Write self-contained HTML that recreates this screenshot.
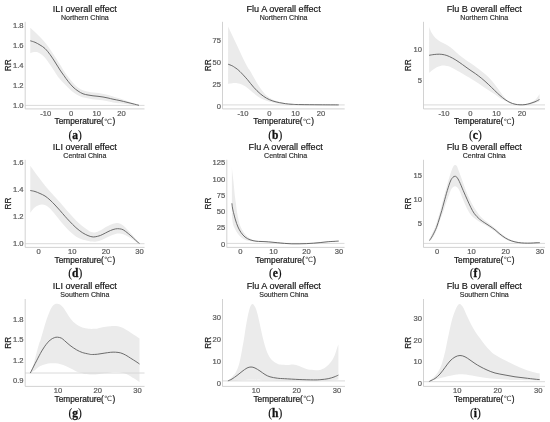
<!DOCTYPE html>
<html><head><meta charset="utf-8"><title>Figure</title>
<style>.lb{stroke:#111;stroke-width:.12px}.lbb{stroke:#111;stroke-width:.3px}.tk{stroke:#5c5c5c;stroke-width:.22px}.ax{stroke:#1a1a1a;stroke-width:.22px}.tt{stroke:#111;stroke-width:.16px}.st{stroke:#2a2a2a;stroke-width:.16px}html,body{margin:0;padding:0;background:#fff}body{width:550px;height:422px;position:relative;overflow:hidden}</style></head>
<body>
<svg width="550" height="422" viewBox="0 0 550 422" style="position:absolute;left:0;top:0;font-family:'Liberation Sans','Noto Sans CJK SC',sans-serif">
<g>
<path d="M30.30,27.70 C31.12,28.45 33.53,30.60 35.20,32.20 C36.87,33.80 38.60,35.50 40.30,37.30 C42.00,39.10 43.70,40.90 45.40,43.00 C47.10,45.10 48.82,47.48 50.50,49.90 C52.18,52.32 53.92,55.07 55.50,57.50 C57.08,59.93 58.75,62.50 60.00,64.50 C61.25,66.50 61.83,67.67 63.00,69.50 C64.17,71.33 65.67,73.67 67.00,75.50 C68.33,77.33 69.50,78.75 71.00,80.50 C72.50,82.25 74.33,84.50 76.00,86.00 C77.67,87.50 79.33,88.62 81.00,89.50 C82.67,90.38 84.33,90.85 86.00,91.30 C87.67,91.75 89.33,91.95 91.00,92.20 C92.67,92.45 94.33,92.58 96.00,92.80 C97.67,93.02 99.33,93.22 101.00,93.50 C102.67,93.78 104.50,94.15 106.00,94.50 C107.50,94.85 108.83,95.27 110.00,95.60 C111.17,95.93 111.33,96.00 113.00,96.50 C114.67,97.00 117.67,97.85 120.00,98.60 C122.33,99.35 124.83,100.23 127.00,101.00 C129.17,101.77 131.00,102.50 133.00,103.20 C135.00,103.90 138.00,104.87 139.00,105.20 L139.00,105.40 C138.00,105.30 135.00,105.00 133.00,104.80 C131.00,104.60 129.17,104.45 127.00,104.20 C124.83,103.95 122.33,103.60 120.00,103.30 C117.67,103.00 114.67,102.65 113.00,102.40 C111.33,102.15 111.33,102.07 110.00,101.80 C108.67,101.53 106.67,101.10 105.00,100.80 C103.33,100.50 101.67,100.22 100.00,100.00 C98.33,99.78 96.67,99.70 95.00,99.50 C93.33,99.30 91.67,99.08 90.00,98.80 C88.33,98.52 86.67,98.23 85.00,97.80 C83.33,97.37 81.67,96.92 80.00,96.20 C78.33,95.48 76.50,94.45 75.00,93.50 C73.50,92.55 72.33,91.67 71.00,90.50 C69.67,89.33 68.33,87.83 67.00,86.50 C65.67,85.17 64.33,83.92 63.00,82.50 C61.67,81.08 60.25,79.60 59.00,78.00 C57.75,76.40 56.92,75.02 55.50,72.90 C54.08,70.78 52.18,67.73 50.50,65.30 C48.82,62.87 46.90,60.10 45.40,58.30 C43.90,56.50 42.78,55.50 41.50,54.50 C40.22,53.50 38.97,52.72 37.70,52.30 C36.43,51.88 35.13,51.85 33.90,52.00 C32.67,52.15 30.90,53.00 30.30,53.20 Z" fill="#ebebeb"/>
<line x1="25.20" y1="105.40" x2="144.50" y2="105.40" stroke="#d6d6d6" stroke-width="0.9"/>
<path d="M30.30,40.80 C31.08,41.05 33.38,41.60 35.00,42.30 C36.62,43.00 38.33,43.97 40.00,45.00 C41.67,46.03 43.33,46.92 45.00,48.50 C46.67,50.08 48.33,52.25 50.00,54.50 C51.67,56.75 53.33,59.42 55.00,62.00 C56.67,64.58 58.50,67.72 60.00,70.00 C61.50,72.28 62.67,73.83 64.00,75.70 C65.33,77.57 66.50,79.32 68.00,81.20 C69.50,83.08 71.33,85.37 73.00,87.00 C74.67,88.63 76.33,89.87 78.00,91.00 C79.67,92.13 81.33,93.13 83.00,93.80 C84.67,94.47 86.33,94.67 88.00,95.00 C89.67,95.33 91.33,95.58 93.00,95.80 C94.67,96.02 96.33,96.10 98.00,96.30 C99.67,96.50 101.33,96.72 103.00,97.00 C104.67,97.28 106.33,97.63 108.00,98.00 C109.67,98.37 111.00,98.77 113.00,99.20 C115.00,99.63 117.67,100.08 120.00,100.60 C122.33,101.12 124.83,101.77 127.00,102.30 C129.17,102.83 131.00,103.30 133.00,103.80 C135.00,104.30 138.00,105.05 139.00,105.30" fill="none" stroke="#5c5c5c" stroke-width="0.9"/>
<path d="M25.20,21.80 V108.90 H144.50" fill="none" stroke="#c6c6c6" stroke-width="0.8"/>
<text x="23.60" y="27.70" text-anchor="end" font-size="7.6" fill="#5c5c5c" class="tk">1.8</text>
<text x="23.60" y="48.10" text-anchor="end" font-size="7.6" fill="#5c5c5c" class="tk">1.6</text>
<text x="23.60" y="68.00" text-anchor="end" font-size="7.6" fill="#5c5c5c" class="tk">1.4</text>
<text x="23.60" y="87.90" text-anchor="end" font-size="7.6" fill="#5c5c5c" class="tk">1.2</text>
<text x="23.60" y="108.10" text-anchor="end" font-size="7.6" fill="#5c5c5c" class="tk">1.0</text>
<text x="45.70" y="115.90" text-anchor="middle" font-size="7.6" fill="#5c5c5c" class="tk">-10</text>
<text x="71.00" y="115.90" text-anchor="middle" font-size="7.6" fill="#5c5c5c" class="tk">0</text>
<text x="96.70" y="115.90" text-anchor="middle" font-size="7.6" fill="#5c5c5c" class="tk">10</text>
<text x="121.60" y="115.90" text-anchor="middle" font-size="7.6" fill="#5c5c5c" class="tk">20</text>
<text x="84.85" y="124.20" text-anchor="middle" font-size="8.3" fill="#1a1a1a" class="ax">Temperature(<tspan font-family="'DejaVu Sans','Noto Sans CJK SC',sans-serif" font-size="7.2" dx="0.2" dy="-0.6" stroke="none" fill="#333">℃</tspan><tspan dx="0.2" dy="0.6">)</tspan></text>
<text transform="translate(10.80,65.35) rotate(-90)" text-anchor="middle" font-size="8.3" fill="#1a1a1a" class="ax">RR</text>
<text x="84.85" y="12.00" text-anchor="middle" font-size="9.1" fill="#111" class="tt">ILI overall effect</text>
<text x="84.85" y="20.00" text-anchor="middle" font-size="7.05" fill="#2a2a2a" class="st">Northern China</text>
<text x="75.20" y="139.00" text-anchor="middle" font-size="11.5" fill="#111" font-family="'Liberation Serif',serif" class="lb">(<tspan font-weight="bold" class="lbb">a</tspan>)</text>
</g>
<g>
<path d="M228.10,26.40 C228.78,27.88 230.67,32.02 232.20,35.30 C233.73,38.58 235.60,42.50 237.30,46.10 C239.00,49.70 240.70,53.40 242.40,56.90 C244.10,60.40 246.23,64.78 247.50,67.10 C248.77,69.42 248.73,68.70 250.00,70.80 C251.27,72.90 253.40,76.83 255.10,79.70 C256.80,82.57 258.30,85.35 260.20,88.00 C262.10,90.65 264.38,93.65 266.50,95.60 C268.62,97.55 270.77,98.63 272.90,99.70 C275.03,100.77 277.18,101.40 279.30,102.00 C281.42,102.60 282.98,102.97 285.60,103.30 C288.22,103.63 290.93,103.82 295.00,104.00 C299.07,104.18 302.72,104.32 310.00,104.40 C317.28,104.48 333.92,104.48 338.70,104.50 L338.70,105.20 C331.42,105.13 303.85,104.95 295.00,104.80 C286.15,104.65 288.22,104.48 285.60,104.30 C282.98,104.12 281.42,103.98 279.30,103.70 C277.18,103.42 275.03,103.10 272.90,102.60 C270.77,102.10 268.62,101.48 266.50,100.70 C264.38,99.92 262.32,99.13 260.20,97.90 C258.08,96.67 255.92,94.95 253.80,93.30 C251.68,91.65 249.40,89.42 247.50,88.00 C245.60,86.58 244.10,85.60 242.40,84.80 C240.70,84.00 239.00,83.47 237.30,83.20 C235.60,82.93 233.73,83.08 232.20,83.20 C230.67,83.32 228.78,83.78 228.10,83.90 Z" fill="#ebebeb"/>
<line x1="222.50" y1="104.90" x2="344.70" y2="104.90" stroke="#d6d6d6" stroke-width="0.9"/>
<path d="M228.10,64.20 C228.78,64.47 231.10,65.27 232.20,65.80 C233.30,66.33 233.85,66.83 234.70,67.40 C235.55,67.97 236.23,68.32 237.30,69.20 C238.37,70.08 239.40,70.95 241.10,72.70 C242.80,74.45 245.38,77.25 247.50,79.70 C249.62,82.15 251.68,85.07 253.80,87.40 C255.92,89.73 258.08,91.90 260.20,93.70 C262.32,95.50 264.38,96.98 266.50,98.20 C268.62,99.42 270.77,100.27 272.90,101.00 C275.03,101.73 277.18,102.15 279.30,102.60 C281.42,103.05 283.48,103.42 285.60,103.70 C287.72,103.98 289.60,104.15 292.00,104.30 C294.40,104.45 295.33,104.52 300.00,104.60 C304.67,104.68 313.55,104.75 320.00,104.80 C326.45,104.85 335.58,104.88 338.70,104.90" fill="none" stroke="#5c5c5c" stroke-width="0.9"/>
<path d="M222.50,21.80 V108.90 H344.70" fill="none" stroke="#c6c6c6" stroke-width="0.8"/>
<text x="220.90" y="43.10" text-anchor="end" font-size="7.6" fill="#5c5c5c" class="tk">75</text>
<text x="220.90" y="65.30" text-anchor="end" font-size="7.6" fill="#5c5c5c" class="tk">50</text>
<text x="220.90" y="86.95" text-anchor="end" font-size="7.6" fill="#5c5c5c" class="tk">25</text>
<text x="220.90" y="108.60" text-anchor="end" font-size="7.6" fill="#5c5c5c" class="tk">0</text>
<text x="243.10" y="115.90" text-anchor="middle" font-size="7.6" fill="#5c5c5c" class="tk">-10</text>
<text x="269.30" y="115.90" text-anchor="middle" font-size="7.6" fill="#5c5c5c" class="tk">0</text>
<text x="295.40" y="115.90" text-anchor="middle" font-size="7.6" fill="#5c5c5c" class="tk">10</text>
<text x="321.10" y="115.90" text-anchor="middle" font-size="7.6" fill="#5c5c5c" class="tk">20</text>
<text x="283.60" y="124.20" text-anchor="middle" font-size="8.3" fill="#1a1a1a" class="ax">Temperature(<tspan font-family="'DejaVu Sans','Noto Sans CJK SC',sans-serif" font-size="7.2" dx="0.2" dy="-0.6" stroke="none" fill="#333">℃</tspan><tspan dx="0.2" dy="0.6">)</tspan></text>
<text transform="translate(210.60,65.35) rotate(-90)" text-anchor="middle" font-size="8.3" fill="#1a1a1a" class="ax">RR</text>
<text x="283.60" y="12.00" text-anchor="middle" font-size="9.1" fill="#111" class="tt">Flu A overall effect</text>
<text x="283.60" y="20.00" text-anchor="middle" font-size="7.05" fill="#2a2a2a" class="st">Northern China</text>
<text x="275.30" y="139.00" text-anchor="middle" font-size="11.5" fill="#111" font-family="'Liberation Serif',serif" class="lb">(<tspan font-weight="bold" class="lbb">b</tspan>)</text>
</g>
<g>
<path d="M429.10,27.10 C429.52,28.05 430.53,31.00 431.60,32.80 C432.67,34.60 434.02,36.42 435.50,37.90 C436.98,39.38 438.82,40.63 440.50,41.70 C442.18,42.77 443.90,43.33 445.60,44.30 C447.30,45.27 449.00,46.23 450.70,47.50 C452.40,48.77 453.88,50.27 455.80,51.90 C457.72,53.53 460.17,55.70 462.20,57.30 C464.23,58.90 466.22,60.27 468.00,61.50 C469.78,62.73 471.02,63.37 472.90,64.70 C474.78,66.03 477.18,67.85 479.30,69.50 C481.42,71.15 483.48,72.68 485.60,74.60 C487.72,76.52 490.08,78.87 492.00,81.00 C493.92,83.13 495.40,85.17 497.10,87.40 C498.80,89.63 500.50,92.28 502.20,94.40 C503.90,96.52 505.40,98.62 507.30,100.10 C509.20,101.58 511.48,102.58 513.60,103.30 C515.72,104.02 518.10,104.25 520.00,104.40 C521.90,104.55 523.33,104.47 525.00,104.20 C526.67,103.93 528.33,103.50 530.00,102.80 C531.67,102.10 533.67,101.05 535.00,100.00 C536.33,98.95 537.25,97.50 538.00,96.50 C538.75,95.50 539.25,94.42 539.50,94.00 L539.50,101.50 C538.75,101.75 536.58,102.52 535.00,103.00 C533.42,103.48 531.67,104.03 530.00,104.40 C528.33,104.77 526.67,105.07 525.00,105.20 C523.33,105.33 521.90,105.35 520.00,105.20 C518.10,105.05 515.52,104.73 513.60,104.30 C511.68,103.87 510.18,103.30 508.50,102.60 C506.82,101.90 505.18,101.05 503.50,100.10 C501.82,99.15 500.10,98.03 498.40,96.90 C496.70,95.77 495.00,94.47 493.30,93.30 C491.60,92.13 490.12,91.17 488.20,89.90 C486.28,88.63 483.92,87.10 481.80,85.70 C479.68,84.30 477.62,82.85 475.50,81.50 C473.38,80.15 471.23,78.88 469.10,77.60 C466.97,76.32 464.88,75.07 462.70,73.80 C460.52,72.53 458.12,71.17 456.00,70.00 C453.88,68.83 451.93,67.53 450.00,66.80 C448.07,66.07 445.98,65.75 444.40,65.60 C442.82,65.45 441.78,65.63 440.50,65.90 C439.22,66.17 437.97,66.57 436.70,67.20 C435.43,67.83 434.17,68.75 432.90,69.70 C431.63,70.65 429.73,72.37 429.10,72.90 Z" fill="#ebebeb"/>
<line x1="423.50" y1="104.90" x2="545.00" y2="104.90" stroke="#d6d6d6" stroke-width="0.9"/>
<path d="M429.10,55.30 C429.95,55.17 432.50,54.68 434.20,54.50 C435.90,54.32 437.60,54.15 439.30,54.20 C441.00,54.25 442.70,54.40 444.40,54.80 C446.10,55.20 447.60,55.73 449.50,56.60 C451.40,57.47 453.63,58.67 455.80,60.00 C457.97,61.33 460.30,63.05 462.50,64.60 C464.70,66.15 466.83,67.78 469.00,69.30 C471.17,70.82 473.37,72.17 475.50,73.70 C477.63,75.23 479.68,76.75 481.80,78.50 C483.92,80.25 486.08,82.23 488.20,84.20 C490.32,86.17 492.53,88.42 494.50,90.30 C496.47,92.18 498.25,93.97 500.00,95.50 C501.75,97.03 503.33,98.33 505.00,99.50 C506.67,100.67 508.33,101.72 510.00,102.50 C511.67,103.28 513.33,103.82 515.00,104.20 C516.67,104.58 518.33,104.73 520.00,104.80 C521.67,104.87 523.33,104.82 525.00,104.60 C526.67,104.38 528.33,103.97 530.00,103.50 C531.67,103.03 533.42,102.47 535.00,101.80 C536.58,101.13 538.75,99.88 539.50,99.50" fill="none" stroke="#5c5c5c" stroke-width="0.9"/>
<path d="M423.50,21.80 V108.90 H545.00" fill="none" stroke="#c6c6c6" stroke-width="0.8"/>
<text x="421.90" y="51.80" text-anchor="end" font-size="7.6" fill="#5c5c5c" class="tk">10</text>
<text x="421.90" y="82.70" text-anchor="end" font-size="7.6" fill="#5c5c5c" class="tk">5</text>
<text x="444.10" y="115.90" text-anchor="middle" font-size="7.6" fill="#5c5c5c" class="tk">-10</text>
<text x="470.30" y="115.90" text-anchor="middle" font-size="7.6" fill="#5c5c5c" class="tk">0</text>
<text x="496.40" y="115.90" text-anchor="middle" font-size="7.6" fill="#5c5c5c" class="tk">10</text>
<text x="522.10" y="115.90" text-anchor="middle" font-size="7.6" fill="#5c5c5c" class="tk">20</text>
<text x="484.25" y="124.20" text-anchor="middle" font-size="8.3" fill="#1a1a1a" class="ax">Temperature(<tspan font-family="'DejaVu Sans','Noto Sans CJK SC',sans-serif" font-size="7.2" dx="0.2" dy="-0.6" stroke="none" fill="#333">℃</tspan><tspan dx="0.2" dy="0.6">)</tspan></text>
<text transform="translate(411.10,65.35) rotate(-90)" text-anchor="middle" font-size="8.3" fill="#1a1a1a" class="ax">RR</text>
<text x="484.25" y="12.00" text-anchor="middle" font-size="9.1" fill="#111" class="tt">Flu B overall effect</text>
<text x="484.25" y="20.00" text-anchor="middle" font-size="7.05" fill="#2a2a2a" class="st">Northern China</text>
<text x="475.40" y="139.00" text-anchor="middle" font-size="11.5" fill="#111" font-family="'Liberation Serif',serif" class="lb">(<tspan font-weight="bold" class="lbb">c</tspan>)</text>
</g>
<g>
<path d="M30.30,165.70 C30.92,166.58 32.72,169.20 34.00,171.00 C35.28,172.80 36.50,174.50 38.00,176.50 C39.50,178.50 41.50,181.08 43.00,183.00 C44.50,184.92 45.67,186.42 47.00,188.00 C48.33,189.58 49.50,190.83 51.00,192.50 C52.50,194.17 54.33,196.17 56.00,198.00 C57.67,199.83 59.33,201.58 61.00,203.50 C62.67,205.42 64.33,207.58 66.00,209.50 C67.67,211.42 69.33,213.17 71.00,215.00 C72.67,216.83 74.33,218.83 76.00,220.50 C77.67,222.17 79.10,223.45 81.00,225.00 C82.90,226.55 85.73,228.63 87.40,229.80 C89.07,230.97 89.70,231.57 91.00,232.00 C92.30,232.43 93.65,232.65 95.20,232.40 C96.75,232.15 98.60,231.35 100.30,230.50 C102.00,229.65 103.70,228.27 105.40,227.30 C107.10,226.33 108.82,225.38 110.50,224.70 C112.18,224.02 114.02,223.40 115.50,223.20 C116.98,223.00 118.12,223.13 119.40,223.50 C120.68,223.87 121.72,224.23 123.20,225.40 C124.68,226.57 126.60,228.70 128.30,230.50 C130.00,232.30 131.92,234.52 133.40,236.20 C134.88,237.88 136.18,239.43 137.20,240.60 C138.22,241.77 139.12,242.77 139.50,243.20 L139.50,243.60 C139.12,243.42 138.22,243.10 137.20,242.50 C136.18,241.90 134.88,240.95 133.40,240.00 C131.92,239.05 130.00,237.75 128.30,236.80 C126.60,235.85 124.68,234.83 123.20,234.30 C121.72,233.77 120.68,233.65 119.40,233.60 C118.12,233.55 116.98,233.63 115.50,234.00 C114.02,234.37 112.18,235.08 110.50,235.80 C108.82,236.52 107.10,237.50 105.40,238.30 C103.70,239.10 102.00,240.03 100.30,240.60 C98.60,241.17 96.58,241.53 95.20,241.70 C93.82,241.87 93.10,241.72 92.00,241.60 C90.90,241.48 90.22,241.33 88.60,241.00 C86.98,240.67 84.42,240.37 82.30,239.60 C80.18,238.83 77.95,237.75 75.90,236.40 C73.85,235.05 71.65,232.98 70.00,231.50 C68.35,230.02 67.33,228.92 66.00,227.50 C64.67,226.08 63.33,224.58 62.00,223.00 C60.67,221.42 59.33,219.67 58.00,218.00 C56.67,216.33 55.33,214.58 54.00,213.00 C52.67,211.42 51.33,209.75 50.00,208.50 C48.67,207.25 47.33,206.17 46.00,205.50 C44.67,204.83 43.33,204.50 42.00,204.50 C40.67,204.50 39.33,204.92 38.00,205.50 C36.67,206.08 35.28,206.78 34.00,208.00 C32.72,209.22 30.92,212.00 30.30,212.80 Z" fill="#ebebeb"/>
<line x1="25.20" y1="243.70" x2="144.50" y2="243.70" stroke="#d6d6d6" stroke-width="0.9"/>
<path d="M30.30,190.50 C31.08,190.67 33.38,191.00 35.00,191.50 C36.62,192.00 38.33,192.75 40.00,193.50 C41.67,194.25 43.33,194.92 45.00,196.00 C46.67,197.08 48.33,198.50 50.00,200.00 C51.67,201.50 53.33,203.25 55.00,205.00 C56.67,206.75 58.33,208.62 60.00,210.50 C61.67,212.38 63.42,214.52 65.00,216.30 C66.58,218.08 67.68,219.32 69.50,221.20 C71.32,223.08 73.77,225.70 75.90,227.60 C78.03,229.50 80.28,231.27 82.30,232.60 C84.32,233.93 86.38,234.90 88.00,235.60 C89.62,236.30 90.80,236.60 92.00,236.80 C93.20,237.00 93.82,237.02 95.20,236.80 C96.58,236.58 98.60,236.13 100.30,235.50 C102.00,234.87 103.70,233.83 105.40,233.00 C107.10,232.17 108.82,231.18 110.50,230.50 C112.18,229.82 114.02,229.18 115.50,228.90 C116.98,228.62 118.12,228.65 119.40,228.80 C120.68,228.95 121.72,229.00 123.20,229.80 C124.68,230.60 126.60,232.22 128.30,233.60 C130.00,234.98 131.92,236.75 133.40,238.10 C134.88,239.45 136.18,240.82 137.20,241.70 C138.22,242.58 139.12,243.12 139.50,243.40" fill="none" stroke="#5c5c5c" stroke-width="0.9"/>
<path d="M25.20,159.80 V247.40 H144.50" fill="none" stroke="#c6c6c6" stroke-width="0.8"/>
<text x="23.60" y="164.90" text-anchor="end" font-size="7.6" fill="#5c5c5c" class="tk">1.6</text>
<text x="23.60" y="192.30" text-anchor="end" font-size="7.6" fill="#5c5c5c" class="tk">1.4</text>
<text x="23.60" y="219.20" text-anchor="end" font-size="7.6" fill="#5c5c5c" class="tk">1.2</text>
<text x="23.60" y="246.40" text-anchor="end" font-size="7.6" fill="#5c5c5c" class="tk">1.0</text>
<text x="38.70" y="254.40" text-anchor="middle" font-size="7.6" fill="#5c5c5c" class="tk">0</text>
<text x="72.30" y="254.40" text-anchor="middle" font-size="7.6" fill="#5c5c5c" class="tk">10</text>
<text x="105.90" y="254.40" text-anchor="middle" font-size="7.6" fill="#5c5c5c" class="tk">20</text>
<text x="139.50" y="254.40" text-anchor="middle" font-size="7.6" fill="#5c5c5c" class="tk">30</text>
<text x="84.85" y="262.70" text-anchor="middle" font-size="8.3" fill="#1a1a1a" class="ax">Temperature(<tspan font-family="'DejaVu Sans','Noto Sans CJK SC',sans-serif" font-size="7.2" dx="0.2" dy="-0.6" stroke="none" fill="#333">℃</tspan><tspan dx="0.2" dy="0.6">)</tspan></text>
<text transform="translate(10.80,203.60) rotate(-90)" text-anchor="middle" font-size="8.3" fill="#1a1a1a" class="ax">RR</text>
<text x="84.85" y="150.00" text-anchor="middle" font-size="9.1" fill="#111" class="tt">ILI overall effect</text>
<text x="84.85" y="158.00" text-anchor="middle" font-size="7.05" fill="#2a2a2a" class="st">Central China</text>
<text x="75.20" y="277.00" text-anchor="middle" font-size="11.5" fill="#111" font-family="'Liberation Serif',serif" class="lb">(<tspan font-weight="bold" class="lbb">d</tspan>)</text>
</g>
<g>
<path d="M231.90,166.00 C231.97,167.00 232.03,169.33 232.30,172.00 C232.57,174.67 233.05,177.83 233.50,182.00 C233.95,186.17 234.58,193.33 235.00,197.00 C235.42,200.67 235.67,201.50 236.00,204.00 C236.33,206.50 236.58,209.33 237.00,212.00 C237.42,214.67 237.92,217.58 238.50,220.00 C239.08,222.42 239.67,224.50 240.50,226.50 C241.33,228.50 242.42,230.38 243.50,232.00 C244.58,233.62 245.75,235.03 247.00,236.20 C248.25,237.37 249.50,238.27 251.00,239.00 C252.50,239.73 253.50,240.23 256.00,240.60 C258.50,240.97 262.45,240.93 266.00,241.20 C269.55,241.47 273.00,241.85 277.30,242.20 C281.60,242.55 286.95,243.15 291.80,243.30 C296.65,243.45 301.55,243.32 306.40,243.10 C311.25,242.88 315.52,242.43 320.90,242.00 C326.28,241.57 335.73,240.75 338.70,240.50 L338.70,241.70 C336.95,241.78 332.38,241.87 328.20,242.20 C324.02,242.53 318.45,243.35 313.60,243.70 C308.75,244.05 303.95,244.27 299.10,244.30 C294.25,244.33 289.18,244.18 284.50,243.90 C279.82,243.62 274.92,242.92 271.00,242.60 C267.08,242.28 264.33,242.23 261.00,242.00 C257.67,241.77 253.50,241.50 251.00,241.20 C248.50,240.90 247.50,240.73 246.00,240.20 C244.50,239.67 243.33,239.03 242.00,238.00 C240.67,236.97 239.17,235.50 238.00,234.00 C236.83,232.50 235.83,230.67 235.00,229.00 C234.17,227.33 233.52,226.17 233.00,224.00 C232.48,221.83 232.08,217.33 231.90,216.00 Z" fill="#ebebeb"/>
<line x1="226.80" y1="243.40" x2="344.50" y2="243.40" stroke="#d6d6d6" stroke-width="0.9"/>
<path d="M231.90,203.30 C232.00,204.08 232.23,206.47 232.50,208.00 C232.77,209.53 233.00,210.50 233.50,212.50 C234.00,214.50 234.75,217.58 235.50,220.00 C236.25,222.42 237.08,224.92 238.00,227.00 C238.92,229.08 239.83,230.83 241.00,232.50 C242.17,234.17 243.50,235.78 245.00,237.00 C246.50,238.22 248.17,239.10 250.00,239.80 C251.83,240.50 254.17,240.92 256.00,241.20 C257.83,241.48 259.33,241.42 261.00,241.50 C262.67,241.58 264.33,241.60 266.00,241.70 C267.67,241.80 269.12,241.93 271.00,242.10 C272.88,242.27 275.05,242.48 277.30,242.70 C279.55,242.92 282.08,243.22 284.50,243.40 C286.92,243.58 289.37,243.73 291.80,243.80 C294.23,243.87 296.67,243.83 299.10,243.80 C301.53,243.77 303.98,243.70 306.40,243.60 C308.82,243.50 311.18,243.38 313.60,243.20 C316.02,243.02 318.47,242.75 320.90,242.50 C323.33,242.25 325.77,241.90 328.20,241.70 C330.63,241.50 333.75,241.40 335.50,241.30 C337.25,241.20 338.17,241.13 338.70,241.10" fill="none" stroke="#5c5c5c" stroke-width="0.9"/>
<path d="M226.80,159.80 V247.40 H344.50" fill="none" stroke="#c6c6c6" stroke-width="0.8"/>
<text x="225.20" y="164.90" text-anchor="end" font-size="7.6" fill="#5c5c5c" class="tk">125</text>
<text x="225.20" y="181.60" text-anchor="end" font-size="7.6" fill="#5c5c5c" class="tk">100</text>
<text x="225.20" y="197.80" text-anchor="end" font-size="7.6" fill="#5c5c5c" class="tk">75</text>
<text x="225.20" y="214.00" text-anchor="end" font-size="7.6" fill="#5c5c5c" class="tk">50</text>
<text x="225.20" y="230.40" text-anchor="end" font-size="7.6" fill="#5c5c5c" class="tk">25</text>
<text x="225.20" y="246.90" text-anchor="end" font-size="7.6" fill="#5c5c5c" class="tk">0</text>
<text x="240.40" y="254.40" text-anchor="middle" font-size="7.6" fill="#5c5c5c" class="tk">0</text>
<text x="273.50" y="254.40" text-anchor="middle" font-size="7.6" fill="#5c5c5c" class="tk">10</text>
<text x="306.40" y="254.40" text-anchor="middle" font-size="7.6" fill="#5c5c5c" class="tk">20</text>
<text x="339.00" y="254.40" text-anchor="middle" font-size="7.6" fill="#5c5c5c" class="tk">30</text>
<text x="285.65" y="262.70" text-anchor="middle" font-size="8.3" fill="#1a1a1a" class="ax">Temperature(<tspan font-family="'DejaVu Sans','Noto Sans CJK SC',sans-serif" font-size="7.2" dx="0.2" dy="-0.6" stroke="none" fill="#333">℃</tspan><tspan dx="0.2" dy="0.6">)</tspan></text>
<text transform="translate(210.60,203.60) rotate(-90)" text-anchor="middle" font-size="8.3" fill="#1a1a1a" class="ax">RR</text>
<text x="285.65" y="150.00" text-anchor="middle" font-size="9.1" fill="#111" class="tt">Flu A overall effect</text>
<text x="285.65" y="158.00" text-anchor="middle" font-size="7.05" fill="#2a2a2a" class="st">Central China</text>
<text x="275.30" y="277.00" text-anchor="middle" font-size="11.5" fill="#111" font-family="'Liberation Serif',serif" class="lb">(<tspan font-weight="bold" class="lbb">e</tspan>)</text>
</g>
<g>
<path d="M429.50,238.80 C429.92,237.97 431.00,235.93 432.00,233.80 C433.00,231.67 434.42,228.88 435.50,226.00 C436.58,223.12 437.77,218.83 438.50,216.50 C439.23,214.17 439.18,214.63 439.90,212.00 C440.62,209.37 441.78,204.48 442.80,200.70 C443.82,196.92 444.93,193.12 446.00,189.30 C447.07,185.48 448.25,180.98 449.20,177.80 C450.15,174.62 450.97,172.15 451.70,170.20 C452.43,168.25 453.02,166.95 453.60,166.10 C454.18,165.25 454.67,165.10 455.20,165.10 C455.73,165.10 456.22,165.15 456.80,166.10 C457.38,167.05 457.95,168.85 458.70,170.80 C459.45,172.75 460.33,175.15 461.30,177.80 C462.27,180.45 463.33,183.62 464.50,186.70 C465.67,189.78 467.03,193.43 468.30,196.30 C469.57,199.17 470.83,201.57 472.10,203.90 C473.37,206.23 474.50,208.20 475.90,210.30 C477.30,212.40 478.82,214.67 480.50,216.50 C482.18,218.33 483.97,219.67 486.00,221.30 C488.03,222.93 490.52,224.55 492.70,226.30 C494.88,228.05 496.97,230.05 499.10,231.80 C501.23,233.55 503.38,235.40 505.50,236.80 C507.62,238.20 509.68,239.33 511.80,240.20 C513.92,241.07 516.08,241.58 518.20,242.00 C520.32,242.42 522.38,242.58 524.50,242.70 C526.62,242.82 528.35,242.78 530.90,242.70 C533.45,242.62 538.32,242.28 539.80,242.20 L539.80,243.20 C538.32,243.25 533.45,243.45 530.90,243.50 C528.35,243.55 526.62,243.58 524.50,243.50 C522.38,243.42 520.32,243.28 518.20,243.00 C516.08,242.72 513.92,242.42 511.80,241.80 C509.68,241.18 507.62,240.43 505.50,239.30 C503.38,238.17 500.85,236.30 499.10,235.00 C497.35,233.70 496.53,232.67 495.00,231.50 C493.47,230.33 491.60,229.12 489.90,228.00 C488.20,226.88 486.62,225.88 484.80,224.80 C482.98,223.72 480.88,222.72 479.00,221.50 C477.12,220.28 475.08,218.92 473.50,217.50 C471.92,216.08 470.80,214.95 469.50,213.00 C468.20,211.05 466.87,208.27 465.70,205.80 C464.53,203.33 463.55,200.75 462.50,198.20 C461.45,195.65 460.35,192.37 459.40,190.50 C458.45,188.63 457.65,187.67 456.80,187.00 C455.95,186.33 455.15,186.23 454.30,186.50 C453.45,186.77 452.55,187.28 451.70,188.60 C450.85,189.92 450.15,191.95 449.20,194.40 C448.25,196.85 446.95,200.53 446.00,203.30 C445.05,206.07 444.42,208.38 443.50,211.00 C442.58,213.62 441.53,216.08 440.50,219.00 C439.47,221.92 438.52,225.50 437.30,228.50 C436.08,231.50 434.50,234.80 433.20,237.00 C431.90,239.20 430.12,240.92 429.50,241.70 Z" fill="#ebebeb"/>
<line x1="423.50" y1="243.40" x2="545.00" y2="243.40" stroke="#d6d6d6" stroke-width="0.9"/>
<path d="M429.50,240.50 C430.02,239.68 431.43,237.78 432.60,235.60 C433.77,233.42 435.33,230.37 436.50,227.40 C437.67,224.43 438.72,220.62 439.60,217.80 C440.48,214.98 441.05,213.13 441.80,210.50 C442.55,207.87 443.18,205.33 444.10,202.00 C445.02,198.67 446.23,194.00 447.30,190.50 C448.37,187.00 449.55,183.22 450.50,181.00 C451.45,178.78 452.27,177.98 453.00,177.20 C453.73,176.42 454.27,176.30 454.90,176.30 C455.53,176.30 456.05,176.32 456.80,177.20 C457.55,178.08 458.33,179.38 459.40,181.60 C460.47,183.82 461.88,187.47 463.20,190.50 C464.52,193.53 466.03,196.98 467.30,199.80 C468.57,202.62 469.62,205.08 470.80,207.40 C471.98,209.72 472.92,211.72 474.40,213.70 C475.88,215.68 477.97,217.77 479.70,219.30 C481.43,220.83 483.10,221.75 484.80,222.90 C486.50,224.05 488.20,225.05 489.90,226.20 C491.60,227.35 493.47,228.60 495.00,229.80 C496.53,231.00 497.35,232.02 499.10,233.40 C500.85,234.78 503.38,236.83 505.50,238.10 C507.62,239.37 509.68,240.27 511.80,241.00 C513.92,241.73 516.08,242.15 518.20,242.50 C520.32,242.85 522.38,243.00 524.50,243.10 C526.62,243.20 528.98,243.15 530.90,243.10 C532.82,243.05 534.52,242.87 536.00,242.80 C537.48,242.73 539.17,242.72 539.80,242.70" fill="none" stroke="#5c5c5c" stroke-width="0.9"/>
<path d="M423.50,159.80 V247.40 H545.00" fill="none" stroke="#c6c6c6" stroke-width="0.8"/>
<text x="421.90" y="177.90" text-anchor="end" font-size="7.6" fill="#5c5c5c" class="tk">15</text>
<text x="421.90" y="202.30" text-anchor="end" font-size="7.6" fill="#5c5c5c" class="tk">10</text>
<text x="421.90" y="226.40" text-anchor="end" font-size="7.6" fill="#5c5c5c" class="tk">5</text>
<text x="437.20" y="254.40" text-anchor="middle" font-size="7.6" fill="#5c5c5c" class="tk">0</text>
<text x="471.50" y="254.40" text-anchor="middle" font-size="7.6" fill="#5c5c5c" class="tk">10</text>
<text x="505.70" y="254.40" text-anchor="middle" font-size="7.6" fill="#5c5c5c" class="tk">20</text>
<text x="540.00" y="254.40" text-anchor="middle" font-size="7.6" fill="#5c5c5c" class="tk">30</text>
<text x="484.25" y="262.70" text-anchor="middle" font-size="8.3" fill="#1a1a1a" class="ax">Temperature(<tspan font-family="'DejaVu Sans','Noto Sans CJK SC',sans-serif" font-size="7.2" dx="0.2" dy="-0.6" stroke="none" fill="#333">℃</tspan><tspan dx="0.2" dy="0.6">)</tspan></text>
<text transform="translate(411.10,203.60) rotate(-90)" text-anchor="middle" font-size="8.3" fill="#1a1a1a" class="ax">RR</text>
<text x="484.25" y="150.00" text-anchor="middle" font-size="9.1" fill="#111" class="tt">Flu B overall effect</text>
<text x="484.25" y="158.00" text-anchor="middle" font-size="7.05" fill="#2a2a2a" class="st">Central China</text>
<text x="475.40" y="277.00" text-anchor="middle" font-size="11.5" fill="#111" font-family="'Liberation Serif',serif" class="lb">(<tspan font-weight="bold" class="lbb">f</tspan>)</text>
</g>
<g>
<path d="M30.30,373.10 C30.58,372.33 31.40,370.20 32.00,368.50 C32.60,366.80 33.13,365.53 33.90,362.90 C34.67,360.27 35.70,356.02 36.60,352.70 C37.50,349.38 38.67,345.03 39.30,343.00 C39.93,340.97 39.70,342.70 40.40,340.50 C41.10,338.30 42.47,333.28 43.50,329.80 C44.53,326.32 45.43,322.98 46.60,319.60 C47.77,316.22 49.33,311.93 50.50,309.50 C51.67,307.07 52.55,305.97 53.60,305.00 C54.65,304.03 55.73,303.80 56.80,303.70 C57.87,303.60 58.93,303.77 60.00,304.40 C61.07,305.03 62.03,306.02 63.20,307.50 C64.37,308.98 65.73,311.38 67.00,313.30 C68.27,315.22 69.32,317.20 70.80,319.00 C72.28,320.80 73.98,322.68 75.90,324.10 C77.82,325.52 80.18,326.72 82.30,327.50 C84.42,328.28 86.48,328.58 88.60,328.80 C90.72,329.02 93.48,328.87 95.00,328.80 C96.52,328.73 96.18,328.68 97.70,328.40 C99.22,328.12 101.97,327.47 104.10,327.10 C106.23,326.73 108.60,326.37 110.50,326.20 C112.40,326.03 113.82,325.95 115.50,326.10 C117.18,326.25 118.90,326.52 120.60,327.10 C122.30,327.68 124.00,328.65 125.70,329.60 C127.40,330.55 129.10,331.73 130.80,332.80 C132.50,333.87 134.45,335.05 135.90,336.00 C137.35,336.95 138.90,338.08 139.50,338.50 L139.50,382.20 C139.12,381.93 138.22,381.28 137.20,380.60 C136.18,379.92 134.88,379.05 133.40,378.10 C131.92,377.15 130.00,375.75 128.30,374.90 C126.60,374.05 125.12,373.47 123.20,373.00 C121.28,372.53 118.92,372.20 116.80,372.10 C114.68,372.00 112.62,372.20 110.50,372.40 C108.38,372.60 106.23,372.98 104.10,373.30 C101.97,373.62 99.82,374.10 97.70,374.30 C95.58,374.50 93.52,374.55 91.40,374.50 C89.28,374.45 86.73,374.28 85.00,374.00 C83.27,373.72 82.52,373.27 81.00,372.80 C79.48,372.33 77.60,371.90 75.90,371.20 C74.20,370.50 72.50,369.45 70.80,368.60 C69.10,367.75 67.40,366.83 65.70,366.10 C64.00,365.37 62.30,364.67 60.60,364.20 C58.90,363.73 57.18,363.45 55.50,363.30 C53.82,363.15 52.18,363.15 50.50,363.30 C48.82,363.45 47.10,363.73 45.40,364.20 C43.70,364.67 42.00,365.15 40.30,366.10 C38.60,367.05 36.87,368.73 35.20,369.90 C33.53,371.07 31.12,372.57 30.30,373.10 Z" fill="#ebebeb"/>
<line x1="25.20" y1="373.00" x2="144.50" y2="373.00" stroke="#d6d6d6" stroke-width="0.9"/>
<path d="M30.30,373.10 C31.12,371.48 33.53,366.65 35.20,363.40 C36.87,360.15 39.00,356.00 40.30,353.60 C41.60,351.20 42.05,350.50 43.00,349.00 C43.95,347.50 44.80,346.10 46.00,344.60 C47.20,343.10 48.82,341.15 50.20,340.00 C51.58,338.85 53.08,338.17 54.30,337.70 C55.52,337.23 56.33,337.13 57.50,337.20 C58.67,337.27 60.13,337.53 61.30,338.10 C62.47,338.67 63.05,339.38 64.50,340.60 C65.95,341.82 68.00,343.87 70.00,345.40 C72.00,346.93 74.45,348.62 76.50,349.80 C78.55,350.98 80.28,351.80 82.30,352.50 C84.32,353.20 87.08,353.67 88.60,354.00 C90.12,354.33 89.88,354.47 91.40,354.50 C92.92,354.53 95.58,354.42 97.70,354.20 C99.82,353.98 101.97,353.52 104.10,353.20 C106.23,352.88 108.60,352.47 110.50,352.30 C112.40,352.13 113.82,352.10 115.50,352.20 C117.18,352.30 118.90,352.42 120.60,352.90 C122.30,353.38 124.00,354.20 125.70,355.10 C127.40,356.00 129.10,357.23 130.80,358.30 C132.50,359.37 134.45,360.55 135.90,361.50 C137.35,362.45 138.90,363.58 139.50,364.00" fill="none" stroke="#5c5c5c" stroke-width="0.9"/>
<path d="M25.20,299.00 V386.40 H144.50" fill="none" stroke="#c6c6c6" stroke-width="0.8"/>
<text x="23.60" y="321.90" text-anchor="end" font-size="7.6" fill="#5c5c5c" class="tk">1.8</text>
<text x="23.60" y="342.00" text-anchor="end" font-size="7.6" fill="#5c5c5c" class="tk">1.5</text>
<text x="23.60" y="362.70" text-anchor="end" font-size="7.6" fill="#5c5c5c" class="tk">1.2</text>
<text x="23.60" y="382.90" text-anchor="end" font-size="7.6" fill="#5c5c5c" class="tk">0.9</text>
<text x="57.90" y="393.40" text-anchor="middle" font-size="7.6" fill="#5c5c5c" class="tk">10</text>
<text x="97.70" y="393.40" text-anchor="middle" font-size="7.6" fill="#5c5c5c" class="tk">20</text>
<text x="137.50" y="393.40" text-anchor="middle" font-size="7.6" fill="#5c5c5c" class="tk">30</text>
<text x="84.85" y="401.70" text-anchor="middle" font-size="8.3" fill="#1a1a1a" class="ax">Temperature(<tspan font-family="'DejaVu Sans','Noto Sans CJK SC',sans-serif" font-size="7.2" dx="0.2" dy="-0.6" stroke="none" fill="#333">℃</tspan><tspan dx="0.2" dy="0.6">)</tspan></text>
<text transform="translate(10.80,342.70) rotate(-90)" text-anchor="middle" font-size="8.3" fill="#1a1a1a" class="ax">RR</text>
<text x="84.85" y="289.00" text-anchor="middle" font-size="9.1" fill="#111" class="tt">ILI overall effect</text>
<text x="84.85" y="297.00" text-anchor="middle" font-size="7.05" fill="#2a2a2a" class="st">Southern China</text>
<text x="75.20" y="417.00" text-anchor="middle" font-size="11.5" fill="#111" font-family="'Liberation Serif',serif" class="lb">(<tspan font-weight="bold" class="lbb">g</tspan>)</text>
</g>
<g>
<path d="M227.90,380.90 C228.08,380.75 228.15,380.82 229.00,380.00 C229.85,379.18 231.83,377.33 233.00,376.00 C234.17,374.67 235.08,373.67 236.00,372.00 C236.92,370.33 237.75,368.33 238.50,366.00 C239.25,363.67 239.92,360.67 240.50,358.00 C241.08,355.33 241.45,353.00 242.00,350.00 C242.55,347.00 243.30,343.00 243.80,340.00 C244.30,337.00 244.58,334.67 245.00,332.00 C245.42,329.33 245.83,326.67 246.30,324.00 C246.77,321.33 247.27,318.50 247.80,316.00 C248.33,313.50 248.97,310.78 249.50,309.00 C250.03,307.22 250.50,306.13 251.00,305.30 C251.50,304.47 252.00,304.00 252.50,304.00 C253.00,304.00 253.42,304.47 254.00,305.30 C254.58,306.13 255.33,307.22 256.00,309.00 C256.67,310.78 257.37,313.50 258.00,316.00 C258.63,318.50 259.22,321.33 259.80,324.00 C260.38,326.67 260.90,329.33 261.50,332.00 C262.10,334.67 262.82,337.67 263.40,340.00 C263.98,342.33 264.40,344.00 265.00,346.00 C265.60,348.00 266.25,350.17 267.00,352.00 C267.75,353.83 268.50,355.50 269.50,357.00 C270.50,358.50 271.75,359.92 273.00,361.00 C274.25,362.08 275.80,362.90 277.00,363.50 C278.20,364.10 278.45,364.33 280.20,364.60 C281.95,364.87 285.32,365.10 287.50,365.10 C289.68,365.10 291.37,364.43 293.30,364.60 C295.23,364.77 296.92,365.37 299.10,366.10 C301.28,366.83 303.98,368.35 306.40,369.00 C308.82,369.65 311.42,369.83 313.60,370.00 C315.78,370.17 317.55,370.42 319.50,370.00 C321.45,369.58 323.37,368.88 325.30,367.50 C327.23,366.12 329.53,363.75 331.10,361.70 C332.67,359.65 333.62,357.73 334.70,355.20 C335.78,352.67 336.98,348.28 337.60,346.50 C338.22,344.72 338.27,344.83 338.40,344.50 L338.40,379.50 C336.17,379.68 331.40,380.42 325.00,380.60 C318.60,380.78 310.00,380.65 300.00,380.60 C290.00,380.55 273.17,380.43 265.00,380.30 C256.83,380.17 255.17,379.80 251.00,379.80 C246.83,379.80 243.85,380.12 240.00,380.30 C236.15,380.48 229.92,380.80 227.90,380.90 Z" fill="#ebebeb"/>
<line x1="222.50" y1="380.90" x2="345.00" y2="380.90" stroke="#d6d6d6" stroke-width="0.9"/>
<path d="M227.90,380.90 C228.58,380.58 230.48,379.90 232.00,379.00 C233.52,378.10 235.33,376.75 237.00,375.50 C238.67,374.25 240.33,372.75 242.00,371.50 C243.67,370.25 245.50,368.75 247.00,368.00 C248.50,367.25 249.67,367.00 251.00,367.00 C252.33,367.00 253.50,367.33 255.00,368.00 C256.50,368.67 258.33,369.92 260.00,371.00 C261.67,372.08 263.33,373.53 265.00,374.50 C266.67,375.47 267.95,376.18 270.00,376.80 C272.05,377.42 274.88,377.88 277.30,378.20 C279.72,378.52 280.87,378.48 284.50,378.70 C288.13,378.92 294.25,379.30 299.10,379.50 C303.95,379.70 309.97,379.88 313.60,379.90 C317.23,379.92 318.47,379.80 320.90,379.60 C323.33,379.40 326.02,379.13 328.20,378.70 C330.38,378.27 332.30,377.60 334.00,377.00 C335.70,376.40 337.67,375.42 338.40,375.10" fill="none" stroke="#5c5c5c" stroke-width="0.9"/>
<path d="M222.50,299.00 V386.40 H345.00" fill="none" stroke="#c6c6c6" stroke-width="0.8"/>
<text x="220.90" y="319.60" text-anchor="end" font-size="7.6" fill="#5c5c5c" class="tk">30</text>
<text x="220.90" y="342.00" text-anchor="end" font-size="7.6" fill="#5c5c5c" class="tk">20</text>
<text x="220.90" y="363.70" text-anchor="end" font-size="7.6" fill="#5c5c5c" class="tk">10</text>
<text x="220.90" y="385.60" text-anchor="end" font-size="7.6" fill="#5c5c5c" class="tk">0</text>
<text x="256.10" y="393.40" text-anchor="middle" font-size="7.6" fill="#5c5c5c" class="tk">10</text>
<text x="296.70" y="393.40" text-anchor="middle" font-size="7.6" fill="#5c5c5c" class="tk">20</text>
<text x="337.00" y="393.40" text-anchor="middle" font-size="7.6" fill="#5c5c5c" class="tk">30</text>
<text x="283.75" y="401.70" text-anchor="middle" font-size="8.3" fill="#1a1a1a" class="ax">Temperature(<tspan font-family="'DejaVu Sans','Noto Sans CJK SC',sans-serif" font-size="7.2" dx="0.2" dy="-0.6" stroke="none" fill="#333">℃</tspan><tspan dx="0.2" dy="0.6">)</tspan></text>
<text transform="translate(210.60,342.70) rotate(-90)" text-anchor="middle" font-size="8.3" fill="#1a1a1a" class="ax">RR</text>
<text x="283.75" y="289.00" text-anchor="middle" font-size="9.1" fill="#111" class="tt">Flu A overall effect</text>
<text x="283.75" y="297.00" text-anchor="middle" font-size="7.05" fill="#2a2a2a" class="st">Southern China</text>
<text x="275.30" y="417.00" text-anchor="middle" font-size="11.5" fill="#111" font-family="'Liberation Serif',serif" class="lb">(<tspan font-weight="bold" class="lbb">h</tspan>)</text>
</g>
<g>
<path d="M429.20,381.70 C429.33,381.50 429.20,381.28 430.00,380.50 C430.80,379.72 432.67,378.42 434.00,377.00 C435.33,375.58 436.83,373.83 438.00,372.00 C439.17,370.17 440.08,368.33 441.00,366.00 C441.92,363.67 442.75,360.67 443.50,358.00 C444.25,355.33 444.83,353.00 445.50,350.00 C446.17,347.00 446.92,342.83 447.50,340.00 C448.08,337.17 448.50,335.33 449.00,333.00 C449.50,330.67 449.92,328.50 450.50,326.00 C451.08,323.50 451.75,320.50 452.50,318.00 C453.25,315.50 454.17,313.03 455.00,311.00 C455.83,308.97 456.75,306.97 457.50,305.80 C458.25,304.63 458.83,304.10 459.50,304.00 C460.17,303.90 460.83,304.53 461.50,305.20 C462.17,305.87 462.58,306.20 463.50,308.00 C464.42,309.80 465.83,313.47 467.00,316.00 C468.17,318.53 469.17,320.67 470.50,323.20 C471.83,325.73 473.42,328.68 475.00,331.20 C476.58,333.72 478.33,336.00 480.00,338.30 C481.67,340.60 483.33,342.97 485.00,345.00 C486.67,347.03 488.33,348.87 490.00,350.50 C491.67,352.13 492.50,353.17 495.00,354.80 C497.50,356.43 501.67,358.55 505.00,360.30 C508.33,362.05 511.67,363.77 515.00,365.30 C518.33,366.83 521.67,368.30 525.00,369.50 C528.33,370.70 532.55,371.83 535.00,372.50 C537.45,373.17 538.92,373.33 539.70,373.50 L539.70,380.70 C535.58,380.58 522.45,380.32 515.00,380.00 C507.55,379.68 500.83,379.30 495.00,378.80 C489.17,378.30 484.17,377.60 480.00,377.00 C475.83,376.40 472.50,375.62 470.00,375.20 C467.50,374.78 466.67,374.67 465.00,374.50 C463.33,374.33 461.67,374.15 460.00,374.20 C458.33,374.25 457.50,374.33 455.00,374.80 C452.50,375.27 448.33,376.22 445.00,377.00 C441.67,377.78 437.63,378.72 435.00,379.50 C432.37,380.28 430.17,381.33 429.20,381.70 Z" fill="#ebebeb"/>
<line x1="423.50" y1="381.70" x2="545.00" y2="381.70" stroke="#d6d6d6" stroke-width="0.9"/>
<path d="M429.20,381.70 C429.33,381.58 429.03,381.53 430.00,381.00 C430.97,380.47 433.33,379.67 435.00,378.50 C436.67,377.33 438.33,375.83 440.00,374.00 C441.67,372.17 443.33,369.67 445.00,367.50 C446.67,365.33 448.33,362.75 450.00,361.00 C451.67,359.25 453.33,357.92 455.00,357.00 C456.67,356.08 458.33,355.53 460.00,355.50 C461.67,355.47 463.33,356.05 465.00,356.80 C466.67,357.55 468.33,358.88 470.00,360.00 C471.67,361.12 473.33,362.42 475.00,363.50 C476.67,364.58 478.00,365.42 480.00,366.50 C482.00,367.58 484.50,368.92 487.00,370.00 C489.50,371.08 492.00,372.17 495.00,373.00 C498.00,373.83 501.67,374.37 505.00,375.00 C508.33,375.63 511.67,376.30 515.00,376.80 C518.33,377.30 521.67,377.60 525.00,378.00 C528.33,378.40 532.55,378.93 535.00,379.20 C537.45,379.47 538.92,379.53 539.70,379.60" fill="none" stroke="#5c5c5c" stroke-width="0.9"/>
<path d="M423.50,299.00 V386.40 H545.00" fill="none" stroke="#c6c6c6" stroke-width="0.8"/>
<text x="421.90" y="320.90" text-anchor="end" font-size="7.6" fill="#5c5c5c" class="tk">30</text>
<text x="421.90" y="343.00" text-anchor="end" font-size="7.6" fill="#5c5c5c" class="tk">20</text>
<text x="421.90" y="364.40" text-anchor="end" font-size="7.6" fill="#5c5c5c" class="tk">10</text>
<text x="421.90" y="386.40" text-anchor="end" font-size="7.6" fill="#5c5c5c" class="tk">0</text>
<text x="457.30" y="393.40" text-anchor="middle" font-size="7.6" fill="#5c5c5c" class="tk">10</text>
<text x="497.70" y="393.40" text-anchor="middle" font-size="7.6" fill="#5c5c5c" class="tk">20</text>
<text x="538.30" y="393.40" text-anchor="middle" font-size="7.6" fill="#5c5c5c" class="tk">30</text>
<text x="484.25" y="401.70" text-anchor="middle" font-size="8.3" fill="#1a1a1a" class="ax">Temperature(<tspan font-family="'DejaVu Sans','Noto Sans CJK SC',sans-serif" font-size="7.2" dx="0.2" dy="-0.6" stroke="none" fill="#333">℃</tspan><tspan dx="0.2" dy="0.6">)</tspan></text>
<text transform="translate(411.10,342.70) rotate(-90)" text-anchor="middle" font-size="8.3" fill="#1a1a1a" class="ax">RR</text>
<text x="484.25" y="289.00" text-anchor="middle" font-size="9.1" fill="#111" class="tt">Flu B overall effect</text>
<text x="484.25" y="297.00" text-anchor="middle" font-size="7.05" fill="#2a2a2a" class="st">Southern China</text>
<text x="475.40" y="417.00" text-anchor="middle" font-size="11.5" fill="#111" font-family="'Liberation Serif',serif" class="lb">(<tspan font-weight="bold" class="lbb">i</tspan>)</text>
</g>
</svg>
</body></html>
